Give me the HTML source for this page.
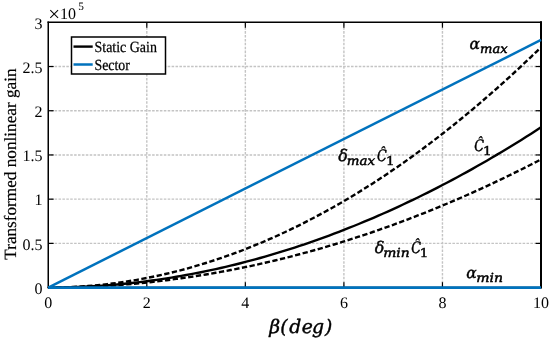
<!DOCTYPE html>
<html><head><meta charset="utf-8"><style>
html,body{margin:0;padding:0;background:#fff;}
svg{display:block;text-rendering:geometricPrecision;}
.tk{font-family:"Liberation Serif",serif;font-size:16px;fill:#000;}
.lg{stroke:#000;stroke-width:0.25px;}
.m{font-family:"DejaVu Serif", "Liberation Serif", serif;font-style:italic;fill:#000;stroke:#000;stroke-width:0.45px;}
</style></head><body>
<svg width="550" height="340" viewBox="0 0 550 340">
<rect width="550" height="340" fill="#fff"/>
<g stroke="#c4c4c4" stroke-width="1.4" fill="none">
<line x1="146.8" y1="22.3" x2="146.8" y2="287.6" stroke-dasharray="2.55 1.35" stroke-dashoffset="2.9"/>
<line x1="245.35" y1="22.3" x2="245.35" y2="287.6" stroke-dasharray="2.55 1.35" stroke-dashoffset="2.9"/>
<line x1="343.9" y1="22.3" x2="343.9" y2="287.6" stroke-dasharray="2.55 1.35" stroke-dashoffset="2.9"/>
<line x1="442.45" y1="22.3" x2="442.45" y2="287.6" stroke-dasharray="2.55 1.35" stroke-dashoffset="2.9"/>
<line x1="48.25" y1="243.38" x2="541.0" y2="243.38" stroke-dasharray="2.55 1.35" stroke-dashoffset="1.45"/>
<line x1="48.25" y1="199.17" x2="541.0" y2="199.17" stroke-dasharray="2.55 1.35" stroke-dashoffset="1.45"/>
<line x1="48.25" y1="154.95" x2="541.0" y2="154.95" stroke-dasharray="2.55 1.35" stroke-dashoffset="1.45"/>
<line x1="48.25" y1="110.73" x2="541.0" y2="110.73" stroke-dasharray="2.55 1.35" stroke-dashoffset="1.45"/>
<line x1="48.25" y1="66.52" x2="541.0" y2="66.52" stroke-dasharray="2.55 1.35" stroke-dashoffset="1.45"/>
</g>
<g stroke="#000" stroke-width="1.2">
<line x1="146.80" y1="287.6" x2="146.80" y2="282.20"/>
<line x1="146.80" y1="22.3" x2="146.80" y2="27.70"/>
<line x1="245.35" y1="287.6" x2="245.35" y2="282.20"/>
<line x1="245.35" y1="22.3" x2="245.35" y2="27.70"/>
<line x1="343.90" y1="287.6" x2="343.90" y2="282.20"/>
<line x1="343.90" y1="22.3" x2="343.90" y2="27.70"/>
<line x1="442.45" y1="287.6" x2="442.45" y2="282.20"/>
<line x1="442.45" y1="22.3" x2="442.45" y2="27.70"/>
<line x1="48.25" y1="243.38" x2="53.65" y2="243.38"/>
<line x1="541.0" y1="243.38" x2="535.6" y2="243.38"/>
<line x1="48.25" y1="199.17" x2="53.65" y2="199.17"/>
<line x1="541.0" y1="199.17" x2="535.6" y2="199.17"/>
<line x1="48.25" y1="154.95" x2="53.65" y2="154.95"/>
<line x1="541.0" y1="154.95" x2="535.6" y2="154.95"/>
<line x1="48.25" y1="110.73" x2="53.65" y2="110.73"/>
<line x1="541.0" y1="110.73" x2="535.6" y2="110.73"/>
<line x1="48.25" y1="66.52" x2="53.65" y2="66.52"/>
<line x1="541.0" y1="66.52" x2="535.6" y2="66.52"/>
</g>
<g stroke="#000" stroke-linecap="square">
<line x1="48.25" y1="22.3" x2="48.25" y2="287.6" stroke-width="1.5"/>
<line x1="48.25" y1="22.3" x2="541.0" y2="22.3" stroke-width="1.5"/>
<line x1="48.25" y1="287.6" x2="541.0" y2="287.6" stroke-width="1.5"/>
<line x1="541.0" y1="22.3" x2="541.0" y2="287.6" stroke-width="2"/>
</g>
<g fill="none" stroke-linejoin="round">
<path d="M48.25,287.60 L53.18,287.58 L58.11,287.50 L63.03,287.38 L67.96,287.22 L72.89,287.00 L77.81,286.73 L82.74,286.42 L87.67,286.06 L92.60,285.65 L97.53,285.20 L102.45,284.69 L107.38,284.14 L112.31,283.54 L117.23,282.89 L122.16,282.19 L127.09,281.45 L132.02,280.65 L136.94,279.81 L141.87,278.92 L146.80,277.99 L151.73,277.00 L156.66,275.97 L161.58,274.88 L166.51,273.76 L171.44,272.58 L176.37,271.35 L181.29,270.08 L186.22,268.76 L191.15,267.39 L196.07,265.97 L201.00,264.50 L205.93,262.99 L210.86,261.42 L215.79,259.81 L220.71,258.16 L225.64,256.45 L230.57,254.69 L235.50,252.89 L240.42,251.04 L245.35,249.14 L250.28,247.20 L255.21,245.20 L260.13,243.16 L265.06,241.07 L269.99,238.93 L274.92,236.74 L279.84,234.50 L284.77,232.22 L289.70,229.89 L294.62,227.51 L299.55,225.08 L304.48,222.61 L309.41,220.08 L314.34,217.51 L319.26,214.89 L324.19,212.22 L329.12,209.51 L334.05,206.74 L338.97,203.93 L343.90,201.07 L348.83,198.16 L353.75,195.20 L358.68,192.20 L363.61,189.15 L368.54,186.05 L373.47,182.90 L378.39,179.70 L383.32,176.46 L388.25,173.16 L393.18,169.82 L398.10,166.43 L403.03,163.00 L407.96,159.51 L412.89,155.98 L417.81,152.40 L422.74,148.77 L427.67,145.09 L432.60,141.36 L437.52,137.59 L442.45,133.77 L447.38,129.90 L452.31,125.98 L457.23,122.01 L462.16,118.00 L467.09,113.94 L472.01,109.83 L476.94,105.67 L481.87,101.46 L486.80,97.21 L491.73,92.91 L496.65,88.56 L501.58,84.16 L506.51,79.71 L511.44,75.22 L516.36,70.67 L521.29,66.08 L526.22,61.44 L531.15,56.76 L536.07,52.02 L541.00,47.24" stroke="#000" stroke-width="2.4" stroke-dasharray="5.3 2.5"/>
<path d="M48.25,287.60 L53.18,287.59 L58.11,287.55 L63.03,287.48 L67.96,287.39 L72.89,287.28 L77.81,287.14 L82.74,286.97 L87.67,286.78 L92.60,286.56 L97.53,286.32 L102.45,286.05 L107.38,285.75 L112.31,285.43 L117.23,285.09 L122.16,284.72 L127.09,284.32 L132.02,283.90 L136.94,283.45 L141.87,282.97 L146.80,282.47 L151.73,281.95 L156.66,281.40 L161.58,280.82 L166.51,280.22 L171.44,279.59 L176.37,278.93 L181.29,278.25 L186.22,277.55 L191.15,276.82 L196.07,276.06 L201.00,275.28 L205.93,274.47 L210.86,273.64 L215.79,272.78 L220.71,271.90 L225.64,270.99 L230.57,270.05 L235.50,269.09 L240.42,268.10 L245.35,267.09 L250.28,266.05 L255.21,264.99 L260.13,263.90 L265.06,262.78 L269.99,261.64 L274.92,260.47 L279.84,259.28 L284.77,258.06 L289.70,256.82 L294.62,255.55 L299.55,254.26 L304.48,252.94 L309.41,251.59 L314.34,250.22 L319.26,248.82 L324.19,247.40 L329.12,245.95 L334.05,244.48 L338.97,242.98 L343.90,241.45 L348.83,239.90 L353.75,238.32 L358.68,236.72 L363.61,235.09 L368.54,233.44 L373.47,231.76 L378.39,230.05 L383.32,228.32 L388.25,226.57 L393.18,224.79 L398.10,222.98 L403.03,221.14 L407.96,219.29 L412.89,217.40 L417.81,215.49 L422.74,213.56 L427.67,211.59 L432.60,209.61 L437.52,207.59 L442.45,205.56 L447.38,203.49 L452.31,201.40 L457.23,199.29 L462.16,197.15 L467.09,194.98 L472.01,192.79 L476.94,190.57 L481.87,188.33 L486.80,186.06 L491.73,183.76 L496.65,181.44 L501.58,179.10 L506.51,176.73 L511.44,174.33 L516.36,171.91 L521.29,169.46 L526.22,166.98 L531.15,164.48 L536.07,161.96 L541.00,159.41" stroke="#000" stroke-width="2.4" stroke-dasharray="5.3 2.5"/>
<path d="M48.25,287.60 L53.18,287.58 L58.11,287.54 L63.03,287.46 L67.96,287.34 L72.89,287.20 L77.81,287.02 L82.74,286.81 L87.67,286.57 L92.60,286.30 L97.53,286.00 L102.45,285.66 L107.38,285.29 L112.31,284.89 L117.23,284.46 L122.16,283.99 L127.09,283.50 L132.02,282.97 L136.94,282.41 L141.87,281.82 L146.80,281.19 L151.73,280.53 L156.66,279.84 L161.58,279.12 L166.51,278.37 L171.44,277.58 L176.37,276.77 L181.29,275.92 L186.22,275.04 L191.15,274.12 L196.07,273.18 L201.00,272.20 L205.93,271.19 L210.86,270.15 L215.79,269.08 L220.71,267.97 L225.64,266.83 L230.57,265.66 L235.50,264.46 L240.42,263.23 L245.35,261.96 L250.28,260.66 L255.21,259.33 L260.13,257.97 L265.06,256.58 L269.99,255.15 L274.92,253.69 L279.84,252.20 L284.77,250.68 L289.70,249.13 L294.62,247.54 L299.55,245.92 L304.48,244.27 L309.41,242.59 L314.34,240.87 L319.26,239.13 L324.19,237.35 L329.12,235.54 L334.05,233.69 L338.97,231.82 L343.90,229.91 L348.83,227.97 L353.75,226.00 L358.68,224.00 L363.61,221.97 L368.54,219.90 L373.47,217.80 L378.39,215.67 L383.32,213.50 L388.25,211.31 L393.18,209.08 L398.10,206.82 L403.03,204.53 L407.96,202.21 L412.89,199.85 L417.81,197.46 L422.74,195.04 L427.67,192.59 L432.60,190.11 L437.52,187.59 L442.45,185.05 L447.38,182.47 L452.31,179.85 L457.23,177.21 L462.16,174.53 L467.09,171.83 L472.01,169.09 L476.94,166.31 L481.87,163.51 L486.80,160.67 L491.73,157.80 L496.65,154.90 L501.58,151.97 L506.51,149.01 L511.44,146.01 L516.36,142.98 L521.29,139.92 L526.22,136.83 L531.15,133.70 L536.07,130.55 L541.00,127.36" stroke="#000" stroke-width="2.4"/>
<line x1="48.25" y1="287.6" x2="541.0" y2="39.99" stroke="#0072bd" stroke-width="2.5"/>
<line x1="48.25" y1="287.6" x2="541.0" y2="287.6" stroke="#0072bd" stroke-width="2.6"/>
</g>
<!-- legend -->
<rect x="71.5" y="37" width="94" height="37" fill="#fff" stroke="#000" stroke-width="1.5"/>
<line x1="73.5" y1="46.6" x2="92.7" y2="46.6" stroke="#000" stroke-width="2.4"/>
<line x1="73.5" y1="64.5" x2="92.7" y2="64.5" stroke="#0072bd" stroke-width="2.5"/>
<g class="tk">
<text class="lg" x="94.5" y="52.2" font-size="15.5px" textLength="62.4" lengthAdjust="spacingAndGlyphs">Static Gain</text>
<text class="lg" x="94.5" y="69.9" font-size="15.5px" textLength="35.3" lengthAdjust="spacingAndGlyphs">Sector</text>
<text x="48.25" y="308" text-anchor="middle">0</text>
<text x="146.80" y="308" text-anchor="middle">2</text>
<text x="245.35" y="308" text-anchor="middle">4</text>
<text x="343.90" y="308" text-anchor="middle">6</text>
<text x="442.45" y="308" text-anchor="middle">8</text>
<text x="541.00" y="308" text-anchor="middle">10</text>
<text x="42.5" y="293.90" text-anchor="end">0</text>
<text x="42.5" y="249.68" text-anchor="end">0.5</text>
<text x="42.5" y="205.47" text-anchor="end">1</text>
<text x="42.5" y="161.25" text-anchor="end">1.5</text>
<text x="42.5" y="117.03" text-anchor="end">2</text>
<text x="42.5" y="72.82" text-anchor="end">2.5</text>
<text x="42.5" y="28.60" text-anchor="end">3</text>
<text x="48.2" y="21.3" font-size="21px">×</text>
<text x="60" y="18.7">10</text>
<text x="78.2" y="10.4" font-size="11.3px">5</text>
<text transform="translate(16,164.1) rotate(-90)" text-anchor="middle" font-size="17.2px" stroke="#000" stroke-width="0.18">Transformed nonlinear gain</text>
</g>
<g class="m">
<text x="269.3" y="332.5" font-size="18.8px">β(<tspan dx="1.8">d</tspan><tspan dx="0.5">e</tspan><tspan dx="-0.9">g</tspan><tspan dx="0.9">)</tspan></text>
<text x="469.5" y="48.7" font-size="15.5px">α</text>
<text x="480" y="52.6" font-size="12.5px" textLength="27.6" lengthAdjust="spacingAndGlyphs">max</text>
<text x="466.3" y="278.3" font-size="15.5px">α</text>
<text x="476.2" y="281.6" font-size="12.5px" textLength="26.8" lengthAdjust="spacingAndGlyphs">min</text>
<text x="338.2" y="160.5" font-size="16px">δ</text>
<text x="346.8" y="164.6" font-size="12.5px" textLength="28.2" lengthAdjust="spacingAndGlyphs">max</text>
<text transform="translate(377,160.5) scale(0.8,1)" font-size="16px">Ĉ</text>
<text x="386" y="165.2" font-size="12px" font-style="normal" textLength="8.6" lengthAdjust="spacingAndGlyphs">1</text>
<text x="374.7" y="252.6" font-size="16px">δ</text>
<text x="383.2" y="256.7" font-size="12.5px" textLength="26.5" lengthAdjust="spacingAndGlyphs">min</text>
<text transform="translate(411.3,252.5) scale(0.8,1)" font-size="16px">Ĉ</text>
<text x="419.8" y="257.1" font-size="12px" font-style="normal" textLength="8.6" lengthAdjust="spacingAndGlyphs">1</text>
<text transform="translate(474.3,151.1) scale(0.8,1)" font-size="16px">Ĉ</text>
<text x="482.9" y="155.1" font-size="12px" font-style="normal" textLength="8.6" lengthAdjust="spacingAndGlyphs">1</text>
</g>
</svg>
</body></html>
